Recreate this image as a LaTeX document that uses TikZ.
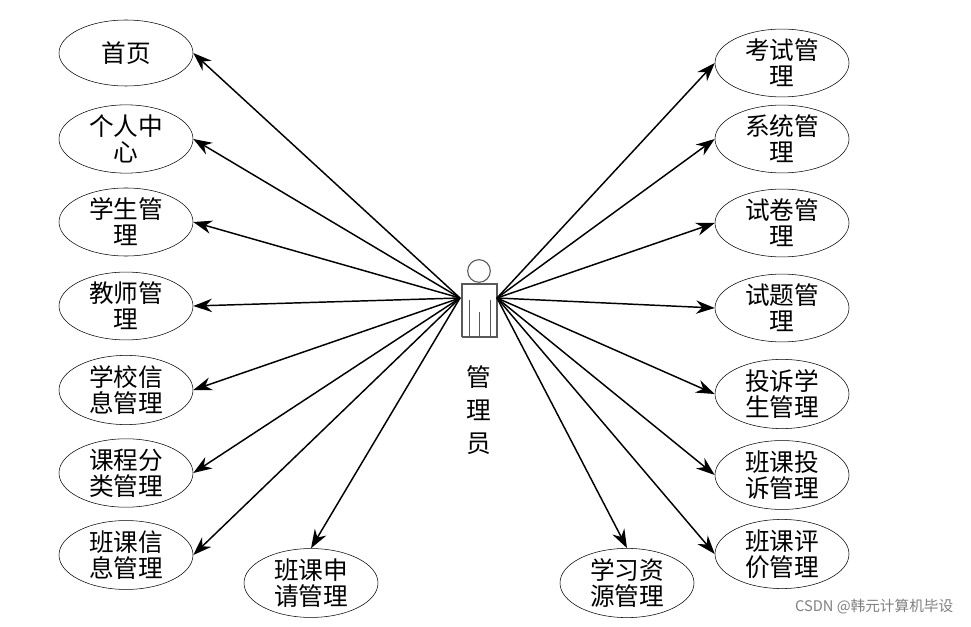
\documentclass[tikz,border=0pt]{standalone}
\usepackage{fontspec}
\newfontfamily\cjk{Noto Sans CJK SC}
\usetikzlibrary{arrows.meta,shapes.geometric}
\begin{document}
\begin{tikzpicture}[x=0.75pt,y=-0.75pt,
  uc/.style={draw,ellipse,minimum width=100.5pt,minimum height=49.5pt,inner sep=0pt,align=center,font=\cjk\fontsize{18.5}{19.5}\selectfont},
  arr/.style={-{Stealth[length=14pt,width=10pt]},line width=1.1pt}]
\useasboundingbox (0,0) rectangle (971,627);
\node[uc] (a1) at (126,53) {首页};
\node[uc] (a2) at (126,139) {个人中\\心};
\node[uc] (a3) at (126,222) {学生管\\理};
\node[uc] (a4) at (126,306) {教师管\\理};
\node[uc] (a5) at (126,390) {学校信\\息管理};
\node[uc] (a6) at (126,473) {课程分\\类管理};
\node[uc] (a7) at (126,555) {班课信\\息管理};
\node[uc] (b1) at (311,583) {班课申\\请管理};
\node[uc] (b2) at (627,583) {学习资\\源管理};
\node[uc] (c1) at (782,63) {考试管\\理};
\node[uc] (c2) at (782,139) {系统管\\理};
\node[uc] (c3) at (782,223) {试卷管\\理};
\node[uc] (c4) at (782,308) {试题管\\理};
\node[uc] (c5) at (782,394) {投诉学\\生管理};
\node[uc] (c6) at (782,475) {班课投\\诉管理};
\node[uc] (c7) at (782,554) {班课评\\价管理};
% actor
\draw[gray!70!black,line width=0.8pt] (479,271) circle[radius=8.5pt];
\draw[gray!70!black,line width=0.8pt] (462,337) -- (462,284) -- (497,284) -- (497,337) -- (462,337);
\draw[gray!70!black,line width=0.6pt] (469,300) -- (469,337) (490,300) -- (490,337) (479,312) -- (479,337);
\node[font=\cjk\fontsize{18.5}{25}\selectfont,align=center] (lab) at (479,410) {管\\理\\员};
\coordinate (L) at (460,298);
\coordinate (R) at (497,298);
\foreach \n in {a1,a2,a3,a4,a5,a6,a7} \draw[arr] (L) -- (\n.east);
\foreach \n in {c1,c2,c3,c4,c5,c6,c7} \draw[arr] (R) -- (\n.west);
\draw[arr] (L) -- (b1.north);
\draw[arr] (R) -- (b2.north);
\node[anchor=east,text=gray,font=\cjk\fontsize{11}{13}\selectfont] (wm) at (958,607) {CSDN @韩元计算机毕设};
\end{tikzpicture}
\end{document}
